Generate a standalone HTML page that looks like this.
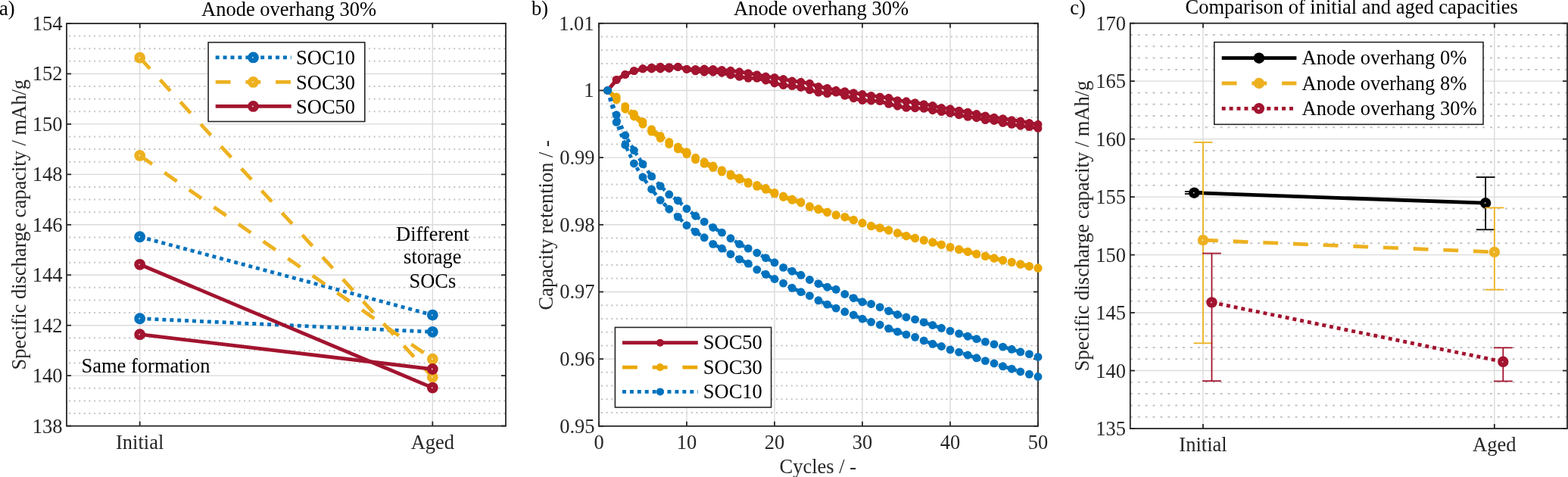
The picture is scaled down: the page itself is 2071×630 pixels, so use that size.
<!DOCTYPE html><html><head><meta charset="utf-8"><style>html,body{margin:0;padding:0;background:#fff;}svg{display:block;}</style></head><body>
<svg width="2071" height="630" viewBox="0 0 2071 630" font-family="'Liberation Serif', 'Times New Roman', serif" font-size="26.5" fill="#000">
<rect width="2071" height="630" fill="#fff"/>
<line x1="91.00" y1="545.99" x2="668.00" y2="545.99" stroke="#c4c4c4" stroke-width="2" stroke-dasharray="2 4.6"/>
<line x1="91.00" y1="529.38" x2="668.00" y2="529.38" stroke="#c4c4c4" stroke-width="2" stroke-dasharray="2 4.6"/>
<line x1="91.00" y1="512.76" x2="668.00" y2="512.76" stroke="#c4c4c4" stroke-width="2" stroke-dasharray="2 4.6"/>
<line x1="91.00" y1="479.54" x2="668.00" y2="479.54" stroke="#c4c4c4" stroke-width="2" stroke-dasharray="2 4.6"/>
<line x1="91.00" y1="462.93" x2="668.00" y2="462.93" stroke="#c4c4c4" stroke-width="2" stroke-dasharray="2 4.6"/>
<line x1="91.00" y1="446.31" x2="668.00" y2="446.31" stroke="#c4c4c4" stroke-width="2" stroke-dasharray="2 4.6"/>
<line x1="91.00" y1="413.09" x2="668.00" y2="413.09" stroke="#c4c4c4" stroke-width="2" stroke-dasharray="2 4.6"/>
<line x1="91.00" y1="396.48" x2="668.00" y2="396.48" stroke="#c4c4c4" stroke-width="2" stroke-dasharray="2 4.6"/>
<line x1="91.00" y1="379.86" x2="668.00" y2="379.86" stroke="#c4c4c4" stroke-width="2" stroke-dasharray="2 4.6"/>
<line x1="91.00" y1="346.64" x2="668.00" y2="346.64" stroke="#c4c4c4" stroke-width="2" stroke-dasharray="2 4.6"/>
<line x1="91.00" y1="330.03" x2="668.00" y2="330.03" stroke="#c4c4c4" stroke-width="2" stroke-dasharray="2 4.6"/>
<line x1="91.00" y1="313.41" x2="668.00" y2="313.41" stroke="#c4c4c4" stroke-width="2" stroke-dasharray="2 4.6"/>
<line x1="91.00" y1="280.19" x2="668.00" y2="280.19" stroke="#c4c4c4" stroke-width="2" stroke-dasharray="2 4.6"/>
<line x1="91.00" y1="263.58" x2="668.00" y2="263.58" stroke="#c4c4c4" stroke-width="2" stroke-dasharray="2 4.6"/>
<line x1="91.00" y1="246.96" x2="668.00" y2="246.96" stroke="#c4c4c4" stroke-width="2" stroke-dasharray="2 4.6"/>
<line x1="91.00" y1="213.74" x2="668.00" y2="213.74" stroke="#c4c4c4" stroke-width="2" stroke-dasharray="2 4.6"/>
<line x1="91.00" y1="197.12" x2="668.00" y2="197.12" stroke="#c4c4c4" stroke-width="2" stroke-dasharray="2 4.6"/>
<line x1="91.00" y1="180.51" x2="668.00" y2="180.51" stroke="#c4c4c4" stroke-width="2" stroke-dasharray="2 4.6"/>
<line x1="91.00" y1="147.29" x2="668.00" y2="147.29" stroke="#c4c4c4" stroke-width="2" stroke-dasharray="2 4.6"/>
<line x1="91.00" y1="130.68" x2="668.00" y2="130.68" stroke="#c4c4c4" stroke-width="2" stroke-dasharray="2 4.6"/>
<line x1="91.00" y1="114.06" x2="668.00" y2="114.06" stroke="#c4c4c4" stroke-width="2" stroke-dasharray="2 4.6"/>
<line x1="91.00" y1="80.84" x2="668.00" y2="80.84" stroke="#c4c4c4" stroke-width="2" stroke-dasharray="2 4.6"/>
<line x1="91.00" y1="64.22" x2="668.00" y2="64.22" stroke="#c4c4c4" stroke-width="2" stroke-dasharray="2 4.6"/>
<line x1="91.00" y1="47.61" x2="668.00" y2="47.61" stroke="#c4c4c4" stroke-width="2" stroke-dasharray="2 4.6"/>
<line x1="88.00" y1="496.15" x2="668.00" y2="496.15" stroke="#dadada" stroke-width="1.4" stroke-linecap="butt" />
<line x1="88.00" y1="429.70" x2="668.00" y2="429.70" stroke="#dadada" stroke-width="1.4" stroke-linecap="butt" />
<line x1="88.00" y1="363.25" x2="668.00" y2="363.25" stroke="#dadada" stroke-width="1.4" stroke-linecap="butt" />
<line x1="88.00" y1="296.80" x2="668.00" y2="296.80" stroke="#dadada" stroke-width="1.4" stroke-linecap="butt" />
<line x1="88.00" y1="230.35" x2="668.00" y2="230.35" stroke="#dadada" stroke-width="1.4" stroke-linecap="butt" />
<line x1="88.00" y1="163.90" x2="668.00" y2="163.90" stroke="#dadada" stroke-width="1.4" stroke-linecap="butt" />
<line x1="88.00" y1="97.45" x2="668.00" y2="97.45" stroke="#dadada" stroke-width="1.4" stroke-linecap="butt" />
<line x1="184.67" y1="31.00" x2="184.67" y2="562.60" stroke="#dadada" stroke-width="1.4" stroke-linecap="butt" />
<line x1="571.33" y1="31.00" x2="571.33" y2="562.60" stroke="#dadada" stroke-width="1.4" stroke-linecap="butt" />
<rect x="88.00" y="31.00" width="580.00" height="531.60" fill="none" stroke="#262626" stroke-width="1.8"/>
<line x1="88.00" y1="562.60" x2="94.00" y2="562.60" stroke="#262626" stroke-width="1.8" stroke-linecap="butt" />
<line x1="668.00" y1="562.60" x2="662.00" y2="562.60" stroke="#262626" stroke-width="1.8" stroke-linecap="butt" />
<text x="82.40" y="571.60" text-anchor="end" fill="#262626">138</text>
<line x1="88.00" y1="496.15" x2="94.00" y2="496.15" stroke="#262626" stroke-width="1.8" stroke-linecap="butt" />
<line x1="668.00" y1="496.15" x2="662.00" y2="496.15" stroke="#262626" stroke-width="1.8" stroke-linecap="butt" />
<text x="82.40" y="505.15" text-anchor="end" fill="#262626">140</text>
<line x1="88.00" y1="429.70" x2="94.00" y2="429.70" stroke="#262626" stroke-width="1.8" stroke-linecap="butt" />
<line x1="668.00" y1="429.70" x2="662.00" y2="429.70" stroke="#262626" stroke-width="1.8" stroke-linecap="butt" />
<text x="82.40" y="438.70" text-anchor="end" fill="#262626">142</text>
<line x1="88.00" y1="363.25" x2="94.00" y2="363.25" stroke="#262626" stroke-width="1.8" stroke-linecap="butt" />
<line x1="668.00" y1="363.25" x2="662.00" y2="363.25" stroke="#262626" stroke-width="1.8" stroke-linecap="butt" />
<text x="82.40" y="372.25" text-anchor="end" fill="#262626">144</text>
<line x1="88.00" y1="296.80" x2="94.00" y2="296.80" stroke="#262626" stroke-width="1.8" stroke-linecap="butt" />
<line x1="668.00" y1="296.80" x2="662.00" y2="296.80" stroke="#262626" stroke-width="1.8" stroke-linecap="butt" />
<text x="82.40" y="305.80" text-anchor="end" fill="#262626">146</text>
<line x1="88.00" y1="230.35" x2="94.00" y2="230.35" stroke="#262626" stroke-width="1.8" stroke-linecap="butt" />
<line x1="668.00" y1="230.35" x2="662.00" y2="230.35" stroke="#262626" stroke-width="1.8" stroke-linecap="butt" />
<text x="82.40" y="239.35" text-anchor="end" fill="#262626">148</text>
<line x1="88.00" y1="163.90" x2="94.00" y2="163.90" stroke="#262626" stroke-width="1.8" stroke-linecap="butt" />
<line x1="668.00" y1="163.90" x2="662.00" y2="163.90" stroke="#262626" stroke-width="1.8" stroke-linecap="butt" />
<text x="82.40" y="172.90" text-anchor="end" fill="#262626">150</text>
<line x1="88.00" y1="97.45" x2="94.00" y2="97.45" stroke="#262626" stroke-width="1.8" stroke-linecap="butt" />
<line x1="668.00" y1="97.45" x2="662.00" y2="97.45" stroke="#262626" stroke-width="1.8" stroke-linecap="butt" />
<text x="82.40" y="106.45" text-anchor="end" fill="#262626">152</text>
<line x1="88.00" y1="31.00" x2="94.00" y2="31.00" stroke="#262626" stroke-width="1.8" stroke-linecap="butt" />
<line x1="668.00" y1="31.00" x2="662.00" y2="31.00" stroke="#262626" stroke-width="1.8" stroke-linecap="butt" />
<text x="82.40" y="40.00" text-anchor="end" fill="#262626">154</text>
<line x1="184.67" y1="562.60" x2="184.67" y2="556.60" stroke="#262626" stroke-width="1.8" stroke-linecap="butt" />
<line x1="184.67" y1="31.00" x2="184.67" y2="37.00" stroke="#262626" stroke-width="1.8" stroke-linecap="butt" />
<text x="184.67" y="592.70" text-anchor="middle" fill="#262626">Initial</text>
<line x1="571.33" y1="562.60" x2="571.33" y2="556.60" stroke="#262626" stroke-width="1.8" stroke-linecap="butt" />
<line x1="571.33" y1="31.00" x2="571.33" y2="37.00" stroke="#262626" stroke-width="1.8" stroke-linecap="butt" />
<text x="571.33" y="592.70" text-anchor="middle" fill="#262626">Aged</text>
<line x1="184.67" y1="312.75" x2="571.33" y2="416.08" stroke="#0072BD" stroke-width="4.8" stroke-linecap="butt" stroke-dasharray="4.96 4.96" />
<circle cx="184.67" cy="312.75" r="7.4" fill="#0072BD"/>
<circle cx="184.07" cy="312.75" r="0.9" fill="#fff" fill-opacity="0.85"/>
<circle cx="571.33" cy="416.08" r="7.4" fill="#0072BD"/>
<circle cx="570.73" cy="416.08" r="0.9" fill="#fff" fill-opacity="0.85"/>
<line x1="184.67" y1="420.73" x2="571.33" y2="438.34" stroke="#0072BD" stroke-width="4.8" stroke-linecap="butt" stroke-dasharray="4.96 4.96" />
<circle cx="184.67" cy="420.73" r="7.4" fill="#0072BD"/>
<circle cx="184.07" cy="420.73" r="0.9" fill="#fff" fill-opacity="0.85"/>
<circle cx="571.33" cy="438.34" r="7.4" fill="#0072BD"/>
<circle cx="570.73" cy="438.34" r="0.9" fill="#fff" fill-opacity="0.85"/>
<line x1="184.67" y1="76.19" x2="571.33" y2="498.14" stroke="#EDB120" stroke-width="4.8" stroke-linecap="butt" stroke-dasharray="19.85 19.85" />
<circle cx="184.67" cy="76.19" r="7.4" fill="#EDB120"/>
<circle cx="184.07" cy="76.19" r="0.9" fill="#fff" fill-opacity="0.85"/>
<circle cx="571.33" cy="498.14" r="7.4" fill="#EDB120"/>
<circle cx="570.73" cy="498.14" r="0.9" fill="#fff" fill-opacity="0.85"/>
<line x1="184.67" y1="205.43" x2="571.33" y2="474.22" stroke="#EDB120" stroke-width="4.8" stroke-linecap="butt" stroke-dasharray="19.85 19.85" />
<circle cx="184.67" cy="205.43" r="7.4" fill="#EDB120"/>
<circle cx="184.07" cy="205.43" r="0.9" fill="#fff" fill-opacity="0.85"/>
<circle cx="571.33" cy="474.22" r="7.4" fill="#EDB120"/>
<circle cx="570.73" cy="474.22" r="0.9" fill="#fff" fill-opacity="0.85"/>
<line x1="184.67" y1="349.30" x2="571.33" y2="512.10" stroke="#A2142F" stroke-width="4.8" stroke-linecap="butt" />
<circle cx="184.67" cy="349.30" r="7.4" fill="#A2142F"/>
<circle cx="184.07" cy="349.30" r="0.9" fill="#fff" fill-opacity="0.85"/>
<circle cx="571.33" cy="512.10" r="7.4" fill="#A2142F"/>
<circle cx="570.73" cy="512.10" r="0.9" fill="#fff" fill-opacity="0.85"/>
<line x1="184.67" y1="441.66" x2="571.33" y2="487.51" stroke="#A2142F" stroke-width="4.8" stroke-linecap="butt" />
<circle cx="184.67" cy="441.66" r="7.4" fill="#A2142F"/>
<circle cx="184.07" cy="441.66" r="0.9" fill="#fff" fill-opacity="0.85"/>
<circle cx="571.33" cy="487.51" r="7.4" fill="#A2142F"/>
<circle cx="570.73" cy="487.51" r="0.9" fill="#fff" fill-opacity="0.85"/>
<text x="107.50" y="492.20" text-anchor="start" >Same formation</text>
<text x="571.33" y="317.50" text-anchor="middle" >Different</text>
<text x="571.33" y="348.10" text-anchor="middle" >storage</text>
<text x="571.33" y="380.30" text-anchor="middle" >SOCs</text>
<rect x="275.10" y="56.00" width="206.70" height="104.50" fill="#fff" stroke="#262626" stroke-width="1.6"/>
<line x1="284.70" y1="75.90" x2="384.70" y2="75.90" stroke="#0072BD" stroke-width="4.8" stroke-linecap="butt" stroke-dasharray="4.96 4.96" />
<circle cx="334.50" cy="75.90" r="7.4" fill="#0072BD"/>
<circle cx="333.90" cy="75.90" r="0.9" fill="#fff" fill-opacity="0.85"/>
<text x="391.00" y="84.70" text-anchor="start" >SOC10</text>
<line x1="284.70" y1="108.40" x2="384.70" y2="108.40" stroke="#EDB120" stroke-width="4.8" stroke-linecap="butt" stroke-dasharray="19.85 19.85" />
<circle cx="334.50" cy="108.40" r="7.4" fill="#EDB120"/>
<circle cx="333.90" cy="108.40" r="0.9" fill="#fff" fill-opacity="0.85"/>
<text x="391.00" y="117.60" text-anchor="start" >SOC30</text>
<line x1="284.70" y1="140.40" x2="384.70" y2="140.40" stroke="#A2142F" stroke-width="4.8" stroke-linecap="butt" />
<circle cx="334.50" cy="140.40" r="7.4" fill="#A2142F"/>
<circle cx="333.90" cy="140.40" r="0.9" fill="#fff" fill-opacity="0.85"/>
<text x="391.00" y="150.00" text-anchor="start" >SOC50</text>
<text x="266.00" y="20.80" text-anchor="start" >Anode overhang 30%</text>
<text transform="translate(34,296.7) rotate(-90)" text-anchor="middle" fill="#262626">Specific discharge capacity / mAh/g</text>
<text x="-1.00" y="20.30" text-anchor="start" >a)</text>
<line x1="794.00" y1="545.07" x2="1371.00" y2="545.07" stroke="#c4c4c4" stroke-width="2" stroke-dasharray="2 4.6"/>
<line x1="794.00" y1="527.33" x2="1371.00" y2="527.33" stroke="#c4c4c4" stroke-width="2" stroke-dasharray="2 4.6"/>
<line x1="794.00" y1="509.60" x2="1371.00" y2="509.60" stroke="#c4c4c4" stroke-width="2" stroke-dasharray="2 4.6"/>
<line x1="794.00" y1="491.87" x2="1371.00" y2="491.87" stroke="#c4c4c4" stroke-width="2" stroke-dasharray="2 4.6"/>
<line x1="794.00" y1="456.40" x2="1371.00" y2="456.40" stroke="#c4c4c4" stroke-width="2" stroke-dasharray="2 4.6"/>
<line x1="794.00" y1="438.67" x2="1371.00" y2="438.67" stroke="#c4c4c4" stroke-width="2" stroke-dasharray="2 4.6"/>
<line x1="794.00" y1="420.93" x2="1371.00" y2="420.93" stroke="#c4c4c4" stroke-width="2" stroke-dasharray="2 4.6"/>
<line x1="794.00" y1="403.20" x2="1371.00" y2="403.20" stroke="#c4c4c4" stroke-width="2" stroke-dasharray="2 4.6"/>
<line x1="794.00" y1="367.73" x2="1371.00" y2="367.73" stroke="#c4c4c4" stroke-width="2" stroke-dasharray="2 4.6"/>
<line x1="794.00" y1="350.00" x2="1371.00" y2="350.00" stroke="#c4c4c4" stroke-width="2" stroke-dasharray="2 4.6"/>
<line x1="794.00" y1="332.27" x2="1371.00" y2="332.27" stroke="#c4c4c4" stroke-width="2" stroke-dasharray="2 4.6"/>
<line x1="794.00" y1="314.53" x2="1371.00" y2="314.53" stroke="#c4c4c4" stroke-width="2" stroke-dasharray="2 4.6"/>
<line x1="794.00" y1="279.07" x2="1371.00" y2="279.07" stroke="#c4c4c4" stroke-width="2" stroke-dasharray="2 4.6"/>
<line x1="794.00" y1="261.33" x2="1371.00" y2="261.33" stroke="#c4c4c4" stroke-width="2" stroke-dasharray="2 4.6"/>
<line x1="794.00" y1="243.60" x2="1371.00" y2="243.60" stroke="#c4c4c4" stroke-width="2" stroke-dasharray="2 4.6"/>
<line x1="794.00" y1="225.87" x2="1371.00" y2="225.87" stroke="#c4c4c4" stroke-width="2" stroke-dasharray="2 4.6"/>
<line x1="794.00" y1="190.40" x2="1371.00" y2="190.40" stroke="#c4c4c4" stroke-width="2" stroke-dasharray="2 4.6"/>
<line x1="794.00" y1="172.67" x2="1371.00" y2="172.67" stroke="#c4c4c4" stroke-width="2" stroke-dasharray="2 4.6"/>
<line x1="794.00" y1="154.93" x2="1371.00" y2="154.93" stroke="#c4c4c4" stroke-width="2" stroke-dasharray="2 4.6"/>
<line x1="794.00" y1="137.20" x2="1371.00" y2="137.20" stroke="#c4c4c4" stroke-width="2" stroke-dasharray="2 4.6"/>
<line x1="794.00" y1="101.73" x2="1371.00" y2="101.73" stroke="#c4c4c4" stroke-width="2" stroke-dasharray="2 4.6"/>
<line x1="794.00" y1="84.00" x2="1371.00" y2="84.00" stroke="#c4c4c4" stroke-width="2" stroke-dasharray="2 4.6"/>
<line x1="794.00" y1="66.27" x2="1371.00" y2="66.27" stroke="#c4c4c4" stroke-width="2" stroke-dasharray="2 4.6"/>
<line x1="794.00" y1="48.53" x2="1371.00" y2="48.53" stroke="#c4c4c4" stroke-width="2" stroke-dasharray="2 4.6"/>
<line x1="791.00" y1="474.13" x2="1371.00" y2="474.13" stroke="#dadada" stroke-width="1.4" stroke-linecap="butt" />
<line x1="791.00" y1="385.47" x2="1371.00" y2="385.47" stroke="#dadada" stroke-width="1.4" stroke-linecap="butt" />
<line x1="791.00" y1="296.80" x2="1371.00" y2="296.80" stroke="#dadada" stroke-width="1.4" stroke-linecap="butt" />
<line x1="791.00" y1="208.13" x2="1371.00" y2="208.13" stroke="#dadada" stroke-width="1.4" stroke-linecap="butt" />
<line x1="791.00" y1="119.47" x2="1371.00" y2="119.47" stroke="#dadada" stroke-width="1.4" stroke-linecap="butt" />
<line x1="907.00" y1="30.80" x2="907.00" y2="562.80" stroke="#dadada" stroke-width="1.4" stroke-linecap="butt" />
<line x1="1023.00" y1="30.80" x2="1023.00" y2="562.80" stroke="#dadada" stroke-width="1.4" stroke-linecap="butt" />
<line x1="1139.00" y1="30.80" x2="1139.00" y2="562.80" stroke="#dadada" stroke-width="1.4" stroke-linecap="butt" />
<line x1="1255.00" y1="30.80" x2="1255.00" y2="562.80" stroke="#dadada" stroke-width="1.4" stroke-linecap="butt" />
<rect x="791.00" y="30.80" width="580.00" height="532.00" fill="none" stroke="#262626" stroke-width="1.8"/>
<line x1="791.00" y1="562.80" x2="797.00" y2="562.80" stroke="#262626" stroke-width="1.8" stroke-linecap="butt" />
<line x1="1371.00" y1="562.80" x2="1365.00" y2="562.80" stroke="#262626" stroke-width="1.8" stroke-linecap="butt" />
<text x="785.50" y="571.80" text-anchor="end" fill="#262626">0.95</text>
<line x1="791.00" y1="474.13" x2="797.00" y2="474.13" stroke="#262626" stroke-width="1.8" stroke-linecap="butt" />
<line x1="1371.00" y1="474.13" x2="1365.00" y2="474.13" stroke="#262626" stroke-width="1.8" stroke-linecap="butt" />
<text x="785.50" y="483.13" text-anchor="end" fill="#262626">0.96</text>
<line x1="791.00" y1="385.47" x2="797.00" y2="385.47" stroke="#262626" stroke-width="1.8" stroke-linecap="butt" />
<line x1="1371.00" y1="385.47" x2="1365.00" y2="385.47" stroke="#262626" stroke-width="1.8" stroke-linecap="butt" />
<text x="785.50" y="394.47" text-anchor="end" fill="#262626">0.97</text>
<line x1="791.00" y1="296.80" x2="797.00" y2="296.80" stroke="#262626" stroke-width="1.8" stroke-linecap="butt" />
<line x1="1371.00" y1="296.80" x2="1365.00" y2="296.80" stroke="#262626" stroke-width="1.8" stroke-linecap="butt" />
<text x="785.50" y="305.80" text-anchor="end" fill="#262626">0.98</text>
<line x1="791.00" y1="208.13" x2="797.00" y2="208.13" stroke="#262626" stroke-width="1.8" stroke-linecap="butt" />
<line x1="1371.00" y1="208.13" x2="1365.00" y2="208.13" stroke="#262626" stroke-width="1.8" stroke-linecap="butt" />
<text x="785.50" y="217.13" text-anchor="end" fill="#262626">0.99</text>
<line x1="791.00" y1="119.47" x2="797.00" y2="119.47" stroke="#262626" stroke-width="1.8" stroke-linecap="butt" />
<line x1="1371.00" y1="119.47" x2="1365.00" y2="119.47" stroke="#262626" stroke-width="1.8" stroke-linecap="butt" />
<text x="784.50" y="128.47" text-anchor="end" fill="#262626">1</text>
<line x1="791.00" y1="30.80" x2="797.00" y2="30.80" stroke="#262626" stroke-width="1.8" stroke-linecap="butt" />
<line x1="1371.00" y1="30.80" x2="1365.00" y2="30.80" stroke="#262626" stroke-width="1.8" stroke-linecap="butt" />
<text x="784.50" y="39.80" text-anchor="end" fill="#262626">1.01</text>
<line x1="791.00" y1="562.80" x2="791.00" y2="556.80" stroke="#262626" stroke-width="1.8" stroke-linecap="butt" />
<line x1="791.00" y1="30.80" x2="791.00" y2="36.80" stroke="#262626" stroke-width="1.8" stroke-linecap="butt" />
<text x="791.00" y="592.90" text-anchor="middle" fill="#262626">0</text>
<line x1="907.00" y1="562.80" x2="907.00" y2="556.80" stroke="#262626" stroke-width="1.8" stroke-linecap="butt" />
<line x1="907.00" y1="30.80" x2="907.00" y2="36.80" stroke="#262626" stroke-width="1.8" stroke-linecap="butt" />
<text x="907.00" y="592.90" text-anchor="middle" fill="#262626">10</text>
<line x1="1023.00" y1="562.80" x2="1023.00" y2="556.80" stroke="#262626" stroke-width="1.8" stroke-linecap="butt" />
<line x1="1023.00" y1="30.80" x2="1023.00" y2="36.80" stroke="#262626" stroke-width="1.8" stroke-linecap="butt" />
<text x="1023.00" y="592.90" text-anchor="middle" fill="#262626">20</text>
<line x1="1139.00" y1="562.80" x2="1139.00" y2="556.80" stroke="#262626" stroke-width="1.8" stroke-linecap="butt" />
<line x1="1139.00" y1="30.80" x2="1139.00" y2="36.80" stroke="#262626" stroke-width="1.8" stroke-linecap="butt" />
<text x="1139.00" y="592.90" text-anchor="middle" fill="#262626">30</text>
<line x1="1255.00" y1="562.80" x2="1255.00" y2="556.80" stroke="#262626" stroke-width="1.8" stroke-linecap="butt" />
<line x1="1255.00" y1="30.80" x2="1255.00" y2="36.80" stroke="#262626" stroke-width="1.8" stroke-linecap="butt" />
<text x="1255.00" y="592.90" text-anchor="middle" fill="#262626">40</text>
<line x1="1371.00" y1="562.80" x2="1371.00" y2="556.80" stroke="#262626" stroke-width="1.8" stroke-linecap="butt" />
<line x1="1371.00" y1="30.80" x2="1371.00" y2="36.80" stroke="#262626" stroke-width="1.8" stroke-linecap="butt" />
<text x="1371.00" y="592.90" text-anchor="middle" fill="#262626">50</text>
<polyline points="802.60,119.50 814.20,105.40 825.80,98.40 837.40,93.60 849.00,90.80 860.60,91.00 872.20,91.00 883.80,90.50 895.40,88.50 907.00,91.40 918.60,93.80 930.20,95.20 941.80,95.20 953.40,96.20 965.00,99.00 976.60,101.40 988.20,103.30 999.80,103.30 1011.40,106.20 1023.00,110.00 1034.60,112.60 1046.20,113.60 1057.80,115.50 1069.40,118.80 1081.00,122.10 1092.60,123.60 1104.20,122.10 1115.80,126.40 1127.40,129.80 1139.00,132.60 1150.60,133.10 1162.20,133.60 1173.80,137.40 1185.40,140.20 1197.00,142.40 1208.60,142.90 1220.20,143.30 1231.80,145.70 1243.40,147.60 1255.00,149.50 1266.60,151.90 1278.20,154.30 1289.80,155.70 1301.40,158.60 1313.00,159.50 1324.60,162.40 1336.20,164.30 1347.80,166.20 1359.40,167.60 1371.00,169.50" fill="none" stroke="#A2142F" stroke-width="4.8" stroke-linejoin="round"/>
<g fill="#A2142F"><circle cx="802.60" cy="119.50" r="5.45"/><circle cx="814.20" cy="105.40" r="5.45"/><circle cx="825.80" cy="98.40" r="5.45"/><circle cx="837.40" cy="93.60" r="5.45"/><circle cx="849.00" cy="90.80" r="5.45"/><circle cx="860.60" cy="91.00" r="5.45"/><circle cx="872.20" cy="91.00" r="5.45"/><circle cx="883.80" cy="90.50" r="5.45"/><circle cx="895.40" cy="88.50" r="5.45"/><circle cx="907.00" cy="91.40" r="5.45"/><circle cx="918.60" cy="93.80" r="5.45"/><circle cx="930.20" cy="95.20" r="5.45"/><circle cx="941.80" cy="95.20" r="5.45"/><circle cx="953.40" cy="96.20" r="5.45"/><circle cx="965.00" cy="99.00" r="5.45"/><circle cx="976.60" cy="101.40" r="5.45"/><circle cx="988.20" cy="103.30" r="5.45"/><circle cx="999.80" cy="103.30" r="5.45"/><circle cx="1011.40" cy="106.20" r="5.45"/><circle cx="1023.00" cy="110.00" r="5.45"/><circle cx="1034.60" cy="112.60" r="5.45"/><circle cx="1046.20" cy="113.60" r="5.45"/><circle cx="1057.80" cy="115.50" r="5.45"/><circle cx="1069.40" cy="118.80" r="5.45"/><circle cx="1081.00" cy="122.10" r="5.45"/><circle cx="1092.60" cy="123.60" r="5.45"/><circle cx="1104.20" cy="122.10" r="5.45"/><circle cx="1115.80" cy="126.40" r="5.45"/><circle cx="1127.40" cy="129.80" r="5.45"/><circle cx="1139.00" cy="132.60" r="5.45"/><circle cx="1150.60" cy="133.10" r="5.45"/><circle cx="1162.20" cy="133.60" r="5.45"/><circle cx="1173.80" cy="137.40" r="5.45"/><circle cx="1185.40" cy="140.20" r="5.45"/><circle cx="1197.00" cy="142.40" r="5.45"/><circle cx="1208.60" cy="142.90" r="5.45"/><circle cx="1220.20" cy="143.30" r="5.45"/><circle cx="1231.80" cy="145.70" r="5.45"/><circle cx="1243.40" cy="147.60" r="5.45"/><circle cx="1255.00" cy="149.50" r="5.45"/><circle cx="1266.60" cy="151.90" r="5.45"/><circle cx="1278.20" cy="154.30" r="5.45"/><circle cx="1289.80" cy="155.70" r="5.45"/><circle cx="1301.40" cy="158.60" r="5.45"/><circle cx="1313.00" cy="159.50" r="5.45"/><circle cx="1324.60" cy="162.40" r="5.45"/><circle cx="1336.20" cy="164.30" r="5.45"/><circle cx="1347.80" cy="166.20" r="5.45"/><circle cx="1359.40" cy="167.60" r="5.45"/><circle cx="1371.00" cy="169.50" r="5.45"/></g>
<polyline points="802.60,119.50 814.20,105.40 825.80,98.40 837.40,93.60 849.00,90.80 860.60,89.10 872.20,88.20 883.80,88.60 895.40,88.30 907.00,91.40 918.60,91.40 930.20,91.00 941.80,91.40 953.40,92.40 965.00,93.30 976.60,94.80 988.20,96.70 999.80,98.60 1011.40,101.00 1023.00,102.40 1034.60,104.50 1046.20,106.90 1057.80,108.30 1069.40,110.20 1081.00,114.50 1092.60,116.40 1104.20,119.30 1115.80,120.70 1127.40,122.60 1139.00,124.50 1150.60,126.40 1162.20,127.90 1173.80,129.30 1185.40,132.60 1197.00,133.80 1208.60,135.70 1220.20,137.60 1231.80,139.50 1243.40,142.40 1255.00,143.80 1266.60,146.20 1278.20,148.10 1289.80,150.50 1301.40,152.90 1313.00,155.20 1324.60,156.70 1336.20,158.60 1347.80,160.00 1359.40,162.40 1371.00,164.30" fill="none" stroke="#A2142F" stroke-width="4.8" stroke-linejoin="round"/>
<g fill="#A2142F"><circle cx="802.60" cy="119.50" r="5.45"/><circle cx="814.20" cy="105.40" r="5.45"/><circle cx="825.80" cy="98.40" r="5.45"/><circle cx="837.40" cy="93.60" r="5.45"/><circle cx="849.00" cy="90.80" r="5.45"/><circle cx="860.60" cy="89.10" r="5.45"/><circle cx="872.20" cy="88.20" r="5.45"/><circle cx="883.80" cy="88.60" r="5.45"/><circle cx="895.40" cy="88.30" r="5.45"/><circle cx="907.00" cy="91.40" r="5.45"/><circle cx="918.60" cy="91.40" r="5.45"/><circle cx="930.20" cy="91.00" r="5.45"/><circle cx="941.80" cy="91.40" r="5.45"/><circle cx="953.40" cy="92.40" r="5.45"/><circle cx="965.00" cy="93.30" r="5.45"/><circle cx="976.60" cy="94.80" r="5.45"/><circle cx="988.20" cy="96.70" r="5.45"/><circle cx="999.80" cy="98.60" r="5.45"/><circle cx="1011.40" cy="101.00" r="5.45"/><circle cx="1023.00" cy="102.40" r="5.45"/><circle cx="1034.60" cy="104.50" r="5.45"/><circle cx="1046.20" cy="106.90" r="5.45"/><circle cx="1057.80" cy="108.30" r="5.45"/><circle cx="1069.40" cy="110.20" r="5.45"/><circle cx="1081.00" cy="114.50" r="5.45"/><circle cx="1092.60" cy="116.40" r="5.45"/><circle cx="1104.20" cy="119.30" r="5.45"/><circle cx="1115.80" cy="120.70" r="5.45"/><circle cx="1127.40" cy="122.60" r="5.45"/><circle cx="1139.00" cy="124.50" r="5.45"/><circle cx="1150.60" cy="126.40" r="5.45"/><circle cx="1162.20" cy="127.90" r="5.45"/><circle cx="1173.80" cy="129.30" r="5.45"/><circle cx="1185.40" cy="132.60" r="5.45"/><circle cx="1197.00" cy="133.80" r="5.45"/><circle cx="1208.60" cy="135.70" r="5.45"/><circle cx="1220.20" cy="137.60" r="5.45"/><circle cx="1231.80" cy="139.50" r="5.45"/><circle cx="1243.40" cy="142.40" r="5.45"/><circle cx="1255.00" cy="143.80" r="5.45"/><circle cx="1266.60" cy="146.20" r="5.45"/><circle cx="1278.20" cy="148.10" r="5.45"/><circle cx="1289.80" cy="150.50" r="5.45"/><circle cx="1301.40" cy="152.90" r="5.45"/><circle cx="1313.00" cy="155.20" r="5.45"/><circle cx="1324.60" cy="156.70" r="5.45"/><circle cx="1336.20" cy="158.60" r="5.45"/><circle cx="1347.80" cy="160.00" r="5.45"/><circle cx="1359.40" cy="162.40" r="5.45"/><circle cx="1371.00" cy="164.30" r="5.45"/></g>
<polyline points="802.60,119.50 814.20,127.96 825.80,140.43 837.40,150.39 849.00,160.75 860.60,170.71 872.20,179.47 883.80,187.34 895.40,194.00 907.00,200.66 918.60,208.12 930.20,213.79 941.80,219.05 953.40,224.71 965.00,229.88 976.60,234.84 988.20,240.40 999.80,244.46 1011.40,248.53 1023.00,254.39 1034.60,258.95 1046.20,263.01 1057.80,266.68 1069.40,272.34 1081.00,275.80 1092.60,279.86 1104.20,283.62 1115.80,286.39 1127.40,290.30 1139.00,294.30 1150.60,298.30 1162.20,300.70 1173.80,303.80 1185.40,307.50 1197.00,311.40 1208.60,314.30 1220.20,317.00 1231.80,319.70 1243.40,322.90 1255.00,326.20 1266.60,329.20 1278.20,332.10 1289.80,335.30 1301.40,338.00 1313.00,340.80 1324.60,343.50 1336.20,346.00 1347.80,348.70 1359.40,351.40 1371.00,353.80" fill="none" stroke="#EBA800" stroke-width="4.8" stroke-linejoin="round" stroke-dasharray="19.85 19.85"/>
<g fill="#EBA800"><circle cx="802.60" cy="119.50" r="5.45"/><circle cx="814.20" cy="127.96" r="5.45"/><circle cx="825.80" cy="140.43" r="5.45"/><circle cx="837.40" cy="150.39" r="5.45"/><circle cx="849.00" cy="160.75" r="5.45"/><circle cx="860.60" cy="170.71" r="5.45"/><circle cx="872.20" cy="179.47" r="5.45"/><circle cx="883.80" cy="187.34" r="5.45"/><circle cx="895.40" cy="194.00" r="5.45"/><circle cx="907.00" cy="200.66" r="5.45"/><circle cx="918.60" cy="208.12" r="5.45"/><circle cx="930.20" cy="213.79" r="5.45"/><circle cx="941.80" cy="219.05" r="5.45"/><circle cx="953.40" cy="224.71" r="5.45"/><circle cx="965.00" cy="229.88" r="5.45"/><circle cx="976.60" cy="234.84" r="5.45"/><circle cx="988.20" cy="240.40" r="5.45"/><circle cx="999.80" cy="244.46" r="5.45"/><circle cx="1011.40" cy="248.53" r="5.45"/><circle cx="1023.00" cy="254.39" r="5.45"/><circle cx="1034.60" cy="258.95" r="5.45"/><circle cx="1046.20" cy="263.01" r="5.45"/><circle cx="1057.80" cy="266.68" r="5.45"/><circle cx="1069.40" cy="272.34" r="5.45"/><circle cx="1081.00" cy="275.80" r="5.45"/><circle cx="1092.60" cy="279.86" r="5.45"/><circle cx="1104.20" cy="283.62" r="5.45"/><circle cx="1115.80" cy="286.39" r="5.45"/><circle cx="1127.40" cy="290.30" r="5.45"/><circle cx="1139.00" cy="294.30" r="5.45"/><circle cx="1150.60" cy="298.30" r="5.45"/><circle cx="1162.20" cy="300.70" r="5.45"/><circle cx="1173.80" cy="303.80" r="5.45"/><circle cx="1185.40" cy="307.50" r="5.45"/><circle cx="1197.00" cy="311.40" r="5.45"/><circle cx="1208.60" cy="314.30" r="5.45"/><circle cx="1220.20" cy="317.00" r="5.45"/><circle cx="1231.80" cy="319.70" r="5.45"/><circle cx="1243.40" cy="322.90" r="5.45"/><circle cx="1255.00" cy="326.20" r="5.45"/><circle cx="1266.60" cy="329.20" r="5.45"/><circle cx="1278.20" cy="332.10" r="5.45"/><circle cx="1289.80" cy="335.30" r="5.45"/><circle cx="1301.40" cy="338.00" r="5.45"/><circle cx="1313.00" cy="340.80" r="5.45"/><circle cx="1324.60" cy="343.50" r="5.45"/><circle cx="1336.20" cy="346.00" r="5.45"/><circle cx="1347.80" cy="348.70" r="5.45"/><circle cx="1359.40" cy="351.40" r="5.45"/><circle cx="1371.00" cy="353.80" r="5.45"/></g>
<polyline points="802.60,119.50 814.20,131.84 825.80,144.18 837.40,154.01 849.00,164.25 860.60,174.09 872.20,182.72 883.80,190.46 895.40,197.00 907.00,203.54 918.60,210.88 930.20,216.41 941.80,221.55 953.40,227.09 965.00,232.12 976.60,236.96 988.20,242.40 999.80,246.34 1011.40,250.28 1023.00,256.01 1034.60,260.45 1046.20,264.39 1057.80,267.93 1069.40,273.46 1081.00,276.80 1092.60,280.74 1104.20,284.38 1115.80,287.01 1127.40,290.90 1139.00,294.90 1150.60,298.90 1162.20,301.30 1173.80,304.40 1185.40,308.10 1197.00,312.00 1208.60,314.90 1220.20,317.60 1231.80,320.30 1243.40,323.50 1255.00,326.80 1266.60,329.80 1278.20,332.70 1289.80,335.90 1301.40,338.60 1313.00,341.40 1324.60,344.10 1336.20,346.60 1347.80,349.30 1359.40,352.00 1371.00,354.40" fill="none" stroke="#EBA800" stroke-width="4.8" stroke-linejoin="round" stroke-dasharray="19.85 19.85"/>
<g fill="#EBA800"><circle cx="802.60" cy="119.50" r="5.45"/><circle cx="814.20" cy="131.84" r="5.45"/><circle cx="825.80" cy="144.18" r="5.45"/><circle cx="837.40" cy="154.01" r="5.45"/><circle cx="849.00" cy="164.25" r="5.45"/><circle cx="860.60" cy="174.09" r="5.45"/><circle cx="872.20" cy="182.72" r="5.45"/><circle cx="883.80" cy="190.46" r="5.45"/><circle cx="895.40" cy="197.00" r="5.45"/><circle cx="907.00" cy="203.54" r="5.45"/><circle cx="918.60" cy="210.88" r="5.45"/><circle cx="930.20" cy="216.41" r="5.45"/><circle cx="941.80" cy="221.55" r="5.45"/><circle cx="953.40" cy="227.09" r="5.45"/><circle cx="965.00" cy="232.12" r="5.45"/><circle cx="976.60" cy="236.96" r="5.45"/><circle cx="988.20" cy="242.40" r="5.45"/><circle cx="999.80" cy="246.34" r="5.45"/><circle cx="1011.40" cy="250.28" r="5.45"/><circle cx="1023.00" cy="256.01" r="5.45"/><circle cx="1034.60" cy="260.45" r="5.45"/><circle cx="1046.20" cy="264.39" r="5.45"/><circle cx="1057.80" cy="267.93" r="5.45"/><circle cx="1069.40" cy="273.46" r="5.45"/><circle cx="1081.00" cy="276.80" r="5.45"/><circle cx="1092.60" cy="280.74" r="5.45"/><circle cx="1104.20" cy="284.38" r="5.45"/><circle cx="1115.80" cy="287.01" r="5.45"/><circle cx="1127.40" cy="290.90" r="5.45"/><circle cx="1139.00" cy="294.90" r="5.45"/><circle cx="1150.60" cy="298.90" r="5.45"/><circle cx="1162.20" cy="301.30" r="5.45"/><circle cx="1173.80" cy="304.40" r="5.45"/><circle cx="1185.40" cy="308.10" r="5.45"/><circle cx="1197.00" cy="312.00" r="5.45"/><circle cx="1208.60" cy="314.90" r="5.45"/><circle cx="1220.20" cy="317.60" r="5.45"/><circle cx="1231.80" cy="320.30" r="5.45"/><circle cx="1243.40" cy="323.50" r="5.45"/><circle cx="1255.00" cy="326.80" r="5.45"/><circle cx="1266.60" cy="329.80" r="5.45"/><circle cx="1278.20" cy="332.70" r="5.45"/><circle cx="1289.80" cy="335.90" r="5.45"/><circle cx="1301.40" cy="338.60" r="5.45"/><circle cx="1313.00" cy="341.40" r="5.45"/><circle cx="1324.60" cy="344.10" r="5.45"/><circle cx="1336.20" cy="346.60" r="5.45"/><circle cx="1347.80" cy="349.30" r="5.45"/><circle cx="1359.40" cy="352.00" r="5.45"/><circle cx="1371.00" cy="354.40" r="5.45"/></g>
<polyline points="802.60,119.50 814.20,161.40 825.80,191.40 837.40,216.00 849.00,234.00 860.60,250.00 872.20,264.30 883.80,276.20 895.40,286.40 907.00,297.60 918.60,306.20 930.20,313.80 941.80,322.40 953.40,328.10 965.00,335.70 976.60,342.40 988.20,348.10 999.80,356.10 1011.40,362.30 1023.00,368.50 1034.60,374.10 1046.20,380.30 1057.80,385.60 1069.40,390.60 1081.00,396.80 1092.60,402.10 1104.20,407.10 1115.80,411.80 1127.40,416.00 1139.00,421.10 1150.60,425.30 1162.20,429.00 1173.80,433.90 1185.40,438.10 1197.00,441.90 1208.60,445.30 1220.20,449.90 1231.80,454.30 1243.40,457.50 1255.00,461.90 1266.60,465.10 1278.20,469.00 1289.80,472.80 1301.40,476.60 1313.00,480.00 1324.60,483.80 1336.20,487.20 1347.80,491.00 1359.40,494.30 1371.00,497.50" fill="none" stroke="#0072BD" stroke-width="4.8" stroke-linejoin="round" stroke-dasharray="4.96 4.96"/>
<g fill="#0072BD"><circle cx="802.60" cy="119.50" r="5.45"/><circle cx="814.20" cy="161.40" r="5.45"/><circle cx="825.80" cy="191.40" r="5.45"/><circle cx="837.40" cy="216.00" r="5.45"/><circle cx="849.00" cy="234.00" r="5.45"/><circle cx="860.60" cy="250.00" r="5.45"/><circle cx="872.20" cy="264.30" r="5.45"/><circle cx="883.80" cy="276.20" r="5.45"/><circle cx="895.40" cy="286.40" r="5.45"/><circle cx="907.00" cy="297.60" r="5.45"/><circle cx="918.60" cy="306.20" r="5.45"/><circle cx="930.20" cy="313.80" r="5.45"/><circle cx="941.80" cy="322.40" r="5.45"/><circle cx="953.40" cy="328.10" r="5.45"/><circle cx="965.00" cy="335.70" r="5.45"/><circle cx="976.60" cy="342.40" r="5.45"/><circle cx="988.20" cy="348.10" r="5.45"/><circle cx="999.80" cy="356.10" r="5.45"/><circle cx="1011.40" cy="362.30" r="5.45"/><circle cx="1023.00" cy="368.50" r="5.45"/><circle cx="1034.60" cy="374.10" r="5.45"/><circle cx="1046.20" cy="380.30" r="5.45"/><circle cx="1057.80" cy="385.60" r="5.45"/><circle cx="1069.40" cy="390.60" r="5.45"/><circle cx="1081.00" cy="396.80" r="5.45"/><circle cx="1092.60" cy="402.10" r="5.45"/><circle cx="1104.20" cy="407.10" r="5.45"/><circle cx="1115.80" cy="411.80" r="5.45"/><circle cx="1127.40" cy="416.00" r="5.45"/><circle cx="1139.00" cy="421.10" r="5.45"/><circle cx="1150.60" cy="425.30" r="5.45"/><circle cx="1162.20" cy="429.00" r="5.45"/><circle cx="1173.80" cy="433.90" r="5.45"/><circle cx="1185.40" cy="438.10" r="5.45"/><circle cx="1197.00" cy="441.90" r="5.45"/><circle cx="1208.60" cy="445.30" r="5.45"/><circle cx="1220.20" cy="449.90" r="5.45"/><circle cx="1231.80" cy="454.30" r="5.45"/><circle cx="1243.40" cy="457.50" r="5.45"/><circle cx="1255.00" cy="461.90" r="5.45"/><circle cx="1266.60" cy="465.10" r="5.45"/><circle cx="1278.20" cy="469.00" r="5.45"/><circle cx="1289.80" cy="472.80" r="5.45"/><circle cx="1301.40" cy="476.60" r="5.45"/><circle cx="1313.00" cy="480.00" r="5.45"/><circle cx="1324.60" cy="483.80" r="5.45"/><circle cx="1336.20" cy="487.20" r="5.45"/><circle cx="1347.80" cy="491.00" r="5.45"/><circle cx="1359.40" cy="494.30" r="5.45"/><circle cx="1371.00" cy="497.50" r="5.45"/></g>
<polyline points="802.60,119.50 814.20,151.80 825.80,178.80 837.40,198.60 849.00,216.60 860.60,232.90 872.20,245.70 883.80,256.80 895.40,265.00 907.00,275.70 918.60,285.20 930.20,292.90 941.80,300.50 953.40,307.10 965.00,314.80 976.60,322.40 988.20,328.10 999.80,334.00 1011.40,340.60 1023.00,346.80 1034.60,353.40 1046.20,358.20 1057.80,363.30 1069.40,369.50 1081.00,374.70 1092.60,379.20 1104.20,382.30 1115.80,388.50 1127.40,393.70 1139.00,398.80 1150.60,401.50 1162.20,405.70 1173.80,410.80 1185.40,415.50 1197.00,419.00 1208.60,421.90 1220.20,425.70 1231.80,429.50 1243.40,433.30 1255.00,437.10 1266.60,440.60 1278.20,444.20 1289.80,447.60 1301.40,451.40 1313.00,454.70 1324.60,458.10 1336.20,461.30 1347.80,464.80 1359.40,467.60 1371.00,471.40" fill="none" stroke="#0072BD" stroke-width="4.8" stroke-linejoin="round" stroke-dasharray="4.96 4.96"/>
<g fill="#0072BD"><circle cx="802.60" cy="119.50" r="5.45"/><circle cx="814.20" cy="151.80" r="5.45"/><circle cx="825.80" cy="178.80" r="5.45"/><circle cx="837.40" cy="198.60" r="5.45"/><circle cx="849.00" cy="216.60" r="5.45"/><circle cx="860.60" cy="232.90" r="5.45"/><circle cx="872.20" cy="245.70" r="5.45"/><circle cx="883.80" cy="256.80" r="5.45"/><circle cx="895.40" cy="265.00" r="5.45"/><circle cx="907.00" cy="275.70" r="5.45"/><circle cx="918.60" cy="285.20" r="5.45"/><circle cx="930.20" cy="292.90" r="5.45"/><circle cx="941.80" cy="300.50" r="5.45"/><circle cx="953.40" cy="307.10" r="5.45"/><circle cx="965.00" cy="314.80" r="5.45"/><circle cx="976.60" cy="322.40" r="5.45"/><circle cx="988.20" cy="328.10" r="5.45"/><circle cx="999.80" cy="334.00" r="5.45"/><circle cx="1011.40" cy="340.60" r="5.45"/><circle cx="1023.00" cy="346.80" r="5.45"/><circle cx="1034.60" cy="353.40" r="5.45"/><circle cx="1046.20" cy="358.20" r="5.45"/><circle cx="1057.80" cy="363.30" r="5.45"/><circle cx="1069.40" cy="369.50" r="5.45"/><circle cx="1081.00" cy="374.70" r="5.45"/><circle cx="1092.60" cy="379.20" r="5.45"/><circle cx="1104.20" cy="382.30" r="5.45"/><circle cx="1115.80" cy="388.50" r="5.45"/><circle cx="1127.40" cy="393.70" r="5.45"/><circle cx="1139.00" cy="398.80" r="5.45"/><circle cx="1150.60" cy="401.50" r="5.45"/><circle cx="1162.20" cy="405.70" r="5.45"/><circle cx="1173.80" cy="410.80" r="5.45"/><circle cx="1185.40" cy="415.50" r="5.45"/><circle cx="1197.00" cy="419.00" r="5.45"/><circle cx="1208.60" cy="421.90" r="5.45"/><circle cx="1220.20" cy="425.70" r="5.45"/><circle cx="1231.80" cy="429.50" r="5.45"/><circle cx="1243.40" cy="433.30" r="5.45"/><circle cx="1255.00" cy="437.10" r="5.45"/><circle cx="1266.60" cy="440.60" r="5.45"/><circle cx="1278.20" cy="444.20" r="5.45"/><circle cx="1289.80" cy="447.60" r="5.45"/><circle cx="1301.40" cy="451.40" r="5.45"/><circle cx="1313.00" cy="454.70" r="5.45"/><circle cx="1324.60" cy="458.10" r="5.45"/><circle cx="1336.20" cy="461.30" r="5.45"/><circle cx="1347.80" cy="464.80" r="5.45"/><circle cx="1359.40" cy="467.60" r="5.45"/><circle cx="1371.00" cy="471.40" r="5.45"/></g>
<rect x="812.40" y="432.40" width="206.20" height="105.60" fill="#fff" stroke="#262626" stroke-width="1.6"/>
<line x1="822.00" y1="452.70" x2="921.80" y2="452.70" stroke="#A2142F" stroke-width="4.8" stroke-linecap="butt" />
<circle cx="871.90" cy="452.70" r="5.0" fill="#A2142F"/>
<text x="928.80" y="461.30" text-anchor="start" >SOC50</text>
<line x1="822.00" y1="485.10" x2="921.80" y2="485.10" stroke="#EBA800" stroke-width="4.8" stroke-linecap="butt" stroke-dasharray="19.85 19.85" />
<circle cx="871.90" cy="485.10" r="5.0" fill="#EBA800"/>
<text x="928.80" y="493.60" text-anchor="start" >SOC30</text>
<line x1="822.00" y1="517.40" x2="921.80" y2="517.40" stroke="#0072BD" stroke-width="4.8" stroke-linecap="butt" stroke-dasharray="4.96 4.96" />
<circle cx="871.90" cy="517.40" r="5.0" fill="#0072BD"/>
<text x="928.80" y="526.20" text-anchor="start" >SOC10</text>
<text x="969.00" y="20.10" text-anchor="start" >Anode overhang 30%</text>
<text x="1080.30" y="624.50" text-anchor="middle" fill="#262626">Cycles / -</text>
<text transform="translate(730,297.3) rotate(-90)" text-anchor="middle" fill="#262626">Capacity retention / -</text>
<text x="702.00" y="20.10" text-anchor="start" >b)</text>
<line x1="1492.80" y1="550.71" x2="2070.00" y2="550.71" stroke="#c4c4c4" stroke-width="2" stroke-dasharray="3 6.9"/>
<line x1="1492.80" y1="535.41" x2="2070.00" y2="535.41" stroke="#c4c4c4" stroke-width="2" stroke-dasharray="3 6.9"/>
<line x1="1492.80" y1="520.12" x2="2070.00" y2="520.12" stroke="#c4c4c4" stroke-width="2" stroke-dasharray="3 6.9"/>
<line x1="1492.80" y1="504.82" x2="2070.00" y2="504.82" stroke="#c4c4c4" stroke-width="2" stroke-dasharray="3 6.9"/>
<line x1="1492.80" y1="474.23" x2="2070.00" y2="474.23" stroke="#c4c4c4" stroke-width="2" stroke-dasharray="3 6.9"/>
<line x1="1492.80" y1="458.94" x2="2070.00" y2="458.94" stroke="#c4c4c4" stroke-width="2" stroke-dasharray="3 6.9"/>
<line x1="1492.80" y1="443.65" x2="2070.00" y2="443.65" stroke="#c4c4c4" stroke-width="2" stroke-dasharray="3 6.9"/>
<line x1="1492.80" y1="428.35" x2="2070.00" y2="428.35" stroke="#c4c4c4" stroke-width="2" stroke-dasharray="3 6.9"/>
<line x1="1492.80" y1="397.76" x2="2070.00" y2="397.76" stroke="#c4c4c4" stroke-width="2" stroke-dasharray="3 6.9"/>
<line x1="1492.80" y1="382.47" x2="2070.00" y2="382.47" stroke="#c4c4c4" stroke-width="2" stroke-dasharray="3 6.9"/>
<line x1="1492.80" y1="367.17" x2="2070.00" y2="367.17" stroke="#c4c4c4" stroke-width="2" stroke-dasharray="3 6.9"/>
<line x1="1492.80" y1="351.88" x2="2070.00" y2="351.88" stroke="#c4c4c4" stroke-width="2" stroke-dasharray="3 6.9"/>
<line x1="1492.80" y1="321.29" x2="2070.00" y2="321.29" stroke="#c4c4c4" stroke-width="2" stroke-dasharray="3 6.9"/>
<line x1="1492.80" y1="306.00" x2="2070.00" y2="306.00" stroke="#c4c4c4" stroke-width="2" stroke-dasharray="3 6.9"/>
<line x1="1492.80" y1="290.70" x2="2070.00" y2="290.70" stroke="#c4c4c4" stroke-width="2" stroke-dasharray="3 6.9"/>
<line x1="1492.80" y1="275.41" x2="2070.00" y2="275.41" stroke="#c4c4c4" stroke-width="2" stroke-dasharray="3 6.9"/>
<line x1="1492.80" y1="244.82" x2="2070.00" y2="244.82" stroke="#c4c4c4" stroke-width="2" stroke-dasharray="3 6.9"/>
<line x1="1492.80" y1="229.53" x2="2070.00" y2="229.53" stroke="#c4c4c4" stroke-width="2" stroke-dasharray="3 6.9"/>
<line x1="1492.80" y1="214.23" x2="2070.00" y2="214.23" stroke="#c4c4c4" stroke-width="2" stroke-dasharray="3 6.9"/>
<line x1="1492.80" y1="198.94" x2="2070.00" y2="198.94" stroke="#c4c4c4" stroke-width="2" stroke-dasharray="3 6.9"/>
<line x1="1492.80" y1="168.35" x2="2070.00" y2="168.35" stroke="#c4c4c4" stroke-width="2" stroke-dasharray="3 6.9"/>
<line x1="1492.80" y1="153.05" x2="2070.00" y2="153.05" stroke="#c4c4c4" stroke-width="2" stroke-dasharray="3 6.9"/>
<line x1="1492.80" y1="137.76" x2="2070.00" y2="137.76" stroke="#c4c4c4" stroke-width="2" stroke-dasharray="3 6.9"/>
<line x1="1492.80" y1="122.47" x2="2070.00" y2="122.47" stroke="#c4c4c4" stroke-width="2" stroke-dasharray="3 6.9"/>
<line x1="1492.80" y1="91.88" x2="2070.00" y2="91.88" stroke="#c4c4c4" stroke-width="2" stroke-dasharray="3 6.9"/>
<line x1="1492.80" y1="76.58" x2="2070.00" y2="76.58" stroke="#c4c4c4" stroke-width="2" stroke-dasharray="3 6.9"/>
<line x1="1492.80" y1="61.29" x2="2070.00" y2="61.29" stroke="#c4c4c4" stroke-width="2" stroke-dasharray="3 6.9"/>
<line x1="1492.80" y1="45.99" x2="2070.00" y2="45.99" stroke="#c4c4c4" stroke-width="2" stroke-dasharray="3 6.9"/>
<line x1="1492.80" y1="489.53" x2="2070.00" y2="489.53" stroke="#dadada" stroke-width="1.4" stroke-linecap="butt" />
<line x1="1492.80" y1="413.06" x2="2070.00" y2="413.06" stroke="#dadada" stroke-width="1.4" stroke-linecap="butt" />
<line x1="1492.80" y1="336.59" x2="2070.00" y2="336.59" stroke="#dadada" stroke-width="1.4" stroke-linecap="butt" />
<line x1="1492.80" y1="260.11" x2="2070.00" y2="260.11" stroke="#dadada" stroke-width="1.4" stroke-linecap="butt" />
<line x1="1492.80" y1="183.64" x2="2070.00" y2="183.64" stroke="#dadada" stroke-width="1.4" stroke-linecap="butt" />
<line x1="1492.80" y1="107.17" x2="2070.00" y2="107.17" stroke="#dadada" stroke-width="1.4" stroke-linecap="butt" />
<line x1="1589.00" y1="30.70" x2="1589.00" y2="566.00" stroke="#dadada" stroke-width="1.4" stroke-linecap="butt" />
<line x1="1973.80" y1="30.70" x2="1973.80" y2="566.00" stroke="#dadada" stroke-width="1.4" stroke-linecap="butt" />
<rect x="1492.80" y="30.70" width="577.20" height="535.30" fill="none" stroke="#262626" stroke-width="1.8"/>
<line x1="1492.80" y1="566.00" x2="1498.80" y2="566.00" stroke="#262626" stroke-width="1.8" stroke-linecap="butt" />
<line x1="2070.00" y1="566.00" x2="2064.00" y2="566.00" stroke="#262626" stroke-width="1.8" stroke-linecap="butt" />
<text x="1487.10" y="575.00" text-anchor="end" fill="#262626">135</text>
<line x1="1492.80" y1="489.53" x2="1498.80" y2="489.53" stroke="#262626" stroke-width="1.8" stroke-linecap="butt" />
<line x1="2070.00" y1="489.53" x2="2064.00" y2="489.53" stroke="#262626" stroke-width="1.8" stroke-linecap="butt" />
<text x="1487.10" y="498.53" text-anchor="end" fill="#262626">140</text>
<line x1="1492.80" y1="413.06" x2="1498.80" y2="413.06" stroke="#262626" stroke-width="1.8" stroke-linecap="butt" />
<line x1="2070.00" y1="413.06" x2="2064.00" y2="413.06" stroke="#262626" stroke-width="1.8" stroke-linecap="butt" />
<text x="1487.10" y="422.06" text-anchor="end" fill="#262626">145</text>
<line x1="1492.80" y1="336.59" x2="1498.80" y2="336.59" stroke="#262626" stroke-width="1.8" stroke-linecap="butt" />
<line x1="2070.00" y1="336.59" x2="2064.00" y2="336.59" stroke="#262626" stroke-width="1.8" stroke-linecap="butt" />
<text x="1487.10" y="345.59" text-anchor="end" fill="#262626">150</text>
<line x1="1492.80" y1="260.11" x2="1498.80" y2="260.11" stroke="#262626" stroke-width="1.8" stroke-linecap="butt" />
<line x1="2070.00" y1="260.11" x2="2064.00" y2="260.11" stroke="#262626" stroke-width="1.8" stroke-linecap="butt" />
<text x="1487.10" y="269.11" text-anchor="end" fill="#262626">155</text>
<line x1="1492.80" y1="183.64" x2="1498.80" y2="183.64" stroke="#262626" stroke-width="1.8" stroke-linecap="butt" />
<line x1="2070.00" y1="183.64" x2="2064.00" y2="183.64" stroke="#262626" stroke-width="1.8" stroke-linecap="butt" />
<text x="1487.10" y="192.64" text-anchor="end" fill="#262626">160</text>
<line x1="1492.80" y1="107.17" x2="1498.80" y2="107.17" stroke="#262626" stroke-width="1.8" stroke-linecap="butt" />
<line x1="2070.00" y1="107.17" x2="2064.00" y2="107.17" stroke="#262626" stroke-width="1.8" stroke-linecap="butt" />
<text x="1487.10" y="116.17" text-anchor="end" fill="#262626">165</text>
<line x1="1492.80" y1="30.70" x2="1498.80" y2="30.70" stroke="#262626" stroke-width="1.8" stroke-linecap="butt" />
<line x1="2070.00" y1="30.70" x2="2064.00" y2="30.70" stroke="#262626" stroke-width="1.8" stroke-linecap="butt" />
<text x="1487.10" y="39.70" text-anchor="end" fill="#262626">170</text>
<line x1="1589.00" y1="566.00" x2="1589.00" y2="560.00" stroke="#262626" stroke-width="1.8" stroke-linecap="butt" />
<line x1="1589.00" y1="30.70" x2="1589.00" y2="36.70" stroke="#262626" stroke-width="1.8" stroke-linecap="butt" />
<text x="1589.00" y="596.40" text-anchor="middle" fill="#262626">Initial</text>
<line x1="1973.80" y1="566.00" x2="1973.80" y2="560.00" stroke="#262626" stroke-width="1.8" stroke-linecap="butt" />
<line x1="1973.80" y1="30.70" x2="1973.80" y2="36.70" stroke="#262626" stroke-width="1.8" stroke-linecap="butt" />
<text x="1973.80" y="596.40" text-anchor="middle" fill="#262626">Aged</text>
<line x1="1577.30" y1="254.70" x2="1962.10" y2="268.20" stroke="#000000" stroke-width="4.8" stroke-linecap="butt" />
<line x1="1577.30" y1="253.00" x2="1577.30" y2="256.00" stroke="#000000" stroke-width="1.8" stroke-linecap="butt" />
<line x1="1564.90" y1="253.00" x2="1589.70" y2="253.00" stroke="#000000" stroke-width="1.8" stroke-linecap="butt" />
<line x1="1564.90" y1="256.00" x2="1589.70" y2="256.00" stroke="#000000" stroke-width="1.8" stroke-linecap="butt" />
<line x1="1962.10" y1="234.00" x2="1962.10" y2="303.30" stroke="#000000" stroke-width="1.8" stroke-linecap="butt" />
<line x1="1949.70" y1="234.00" x2="1974.50" y2="234.00" stroke="#000000" stroke-width="1.8" stroke-linecap="butt" />
<line x1="1949.70" y1="303.30" x2="1974.50" y2="303.30" stroke="#000000" stroke-width="1.8" stroke-linecap="butt" />
<circle cx="1577.30" cy="254.70" r="7.2" fill="#000000"/>
<circle cx="1576.70" cy="254.70" r="0.9" fill="#fff" fill-opacity="0.85"/>
<circle cx="1962.10" cy="268.20" r="7.2" fill="#000000"/>
<circle cx="1961.50" cy="268.20" r="0.9" fill="#fff" fill-opacity="0.85"/>
<line x1="1589.00" y1="317.10" x2="1973.80" y2="332.90" stroke="#EDB120" stroke-width="4.8" stroke-linecap="butt" stroke-dasharray="19.85 19.85" />
<line x1="1589.00" y1="188.00" x2="1589.00" y2="453.30" stroke="#EDB120" stroke-width="1.8" stroke-linecap="butt" />
<line x1="1576.60" y1="188.00" x2="1601.40" y2="188.00" stroke="#EDB120" stroke-width="1.8" stroke-linecap="butt" />
<line x1="1576.60" y1="453.30" x2="1601.40" y2="453.30" stroke="#EDB120" stroke-width="1.8" stroke-linecap="butt" />
<line x1="1973.80" y1="274.40" x2="1973.80" y2="382.60" stroke="#EDB120" stroke-width="1.8" stroke-linecap="butt" />
<line x1="1961.40" y1="274.40" x2="1986.20" y2="274.40" stroke="#EDB120" stroke-width="1.8" stroke-linecap="butt" />
<line x1="1961.40" y1="382.60" x2="1986.20" y2="382.60" stroke="#EDB120" stroke-width="1.8" stroke-linecap="butt" />
<circle cx="1589.00" cy="317.10" r="7.2" fill="#EDB120"/>
<circle cx="1588.40" cy="317.10" r="0.9" fill="#fff" fill-opacity="0.85"/>
<circle cx="1973.80" cy="332.90" r="7.2" fill="#EDB120"/>
<circle cx="1973.20" cy="332.90" r="0.9" fill="#fff" fill-opacity="0.85"/>
<line x1="1600.50" y1="399.40" x2="1985.30" y2="477.80" stroke="#A2142F" stroke-width="4.8" stroke-linecap="butt" stroke-dasharray="4.96 4.96" />
<line x1="1600.50" y1="334.60" x2="1600.50" y2="503.20" stroke="#A2142F" stroke-width="1.8" stroke-linecap="butt" />
<line x1="1588.10" y1="334.60" x2="1612.90" y2="334.60" stroke="#A2142F" stroke-width="1.8" stroke-linecap="butt" />
<line x1="1588.10" y1="503.20" x2="1612.90" y2="503.20" stroke="#A2142F" stroke-width="1.8" stroke-linecap="butt" />
<line x1="1985.30" y1="459.30" x2="1985.30" y2="503.50" stroke="#A2142F" stroke-width="1.8" stroke-linecap="butt" />
<line x1="1972.90" y1="459.30" x2="1997.70" y2="459.30" stroke="#A2142F" stroke-width="1.8" stroke-linecap="butt" />
<line x1="1972.90" y1="503.50" x2="1997.70" y2="503.50" stroke="#A2142F" stroke-width="1.8" stroke-linecap="butt" />
<circle cx="1600.50" cy="399.40" r="7.2" fill="#A2142F"/>
<circle cx="1599.90" cy="399.40" r="0.9" fill="#fff" fill-opacity="0.85"/>
<circle cx="1985.30" cy="477.80" r="7.2" fill="#A2142F"/>
<circle cx="1984.70" cy="477.80" r="0.9" fill="#fff" fill-opacity="0.85"/>
<rect x="1603.80" y="55.70" width="355.20" height="108.60" fill="#fff" stroke="#262626" stroke-width="1.6"/>
<line x1="1613.70" y1="76.70" x2="1712.40" y2="76.70" stroke="#000000" stroke-width="4.8" stroke-linecap="butt" />
<circle cx="1662.90" cy="76.70" r="7.2" fill="#000000"/>
<text x="1719.50" y="85.20" text-anchor="start" >Anode overhang 0%</text>
<line x1="1613.70" y1="110.00" x2="1712.40" y2="110.00" stroke="#EDB120" stroke-width="4.8" stroke-linecap="butt" stroke-dasharray="19.85 19.85" />
<circle cx="1662.90" cy="110.00" r="7.2" fill="#EDB120"/>
<text x="1719.50" y="118.60" text-anchor="start" >Anode overhang 8%</text>
<line x1="1613.70" y1="143.30" x2="1712.40" y2="143.30" stroke="#A2142F" stroke-width="4.8" stroke-linecap="butt" stroke-dasharray="4.96 4.96" />
<circle cx="1662.90" cy="143.30" r="7.2" fill="#A2142F"/>
<circle cx="1662.30" cy="143.30" r="1.5" fill="#fff" fill-opacity="0.85"/>
<text x="1719.50" y="151.90" text-anchor="start" >Anode overhang 30%</text>
<text x="1565.50" y="18.30" text-anchor="start" >Comparison of initial and aged capacities</text>
<text transform="translate(1438.1,298.4) rotate(-90)" text-anchor="middle" fill="#262626">Specific discharge capacity / mAh/g</text>
<text x="1413.30" y="19.00" text-anchor="start" >c)</text>
</svg></body></html>
